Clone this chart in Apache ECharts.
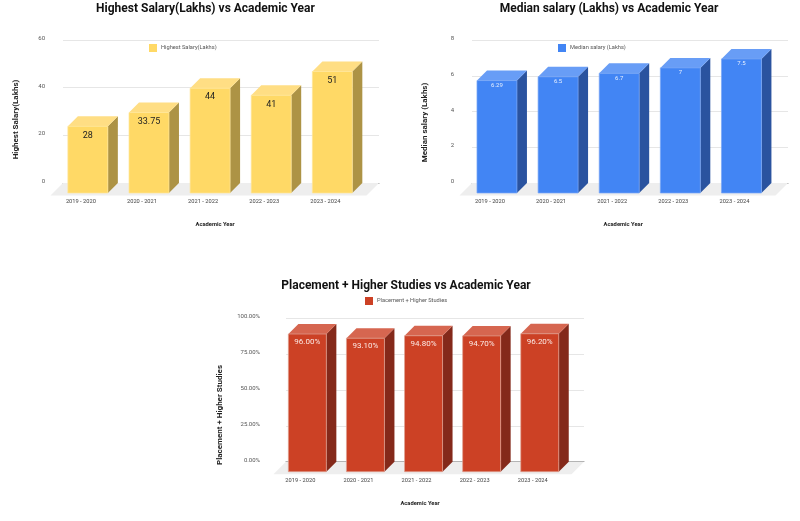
<!DOCTYPE html>
<html><head><meta charset="utf-8">
<style>html,body{margin:0;padding:0;background:#fff}#c{width:800px;height:521px}</style>
<script src="https://cdn.jsdelivr.net/npm/echarts@6/dist/echarts.min.js"></script>
</head><body><div id="c"></div>
<script>
const categories = ['2019 - 2020','2020 - 2021','2021 - 2022','2022 - 2023','2023 - 2024'];
const highestSalary = [28, 33.75, 44, 41, 51];
const medianSalary = [6.29, 6.5, 6.7, 7, 7.5];
const placement = [96.0, 93.1, 94.8, 94.7, 96.2];

const FONT = 'Roboto';
const panels = [
 {name:'Highest Salary(Lakhs)', title:'Highest Salary(Lakhs) vs Academic Year', data:highestSalary, max:60, interval:20,
  vFmt:v=>String(v), yFmt:v=>String(v),
  wall:{l:63,r:379,t:40,b:183}, band:{l:57.3,w:305.6}, titleX:200.5,titleY:3.5,
  legend:{l:149,t:44}, c:{front:'#ffd966',top:'#ffde84',side:'#ad9345',edge:'#ffe599',text:'#222222'},
  labelSize:9,labelDy:9, yMargin:18, yNameGap:43, yShift:16, xShift:10, xGap:39, dy:10},
 {name:'Median salary (Lakhs)', title:'Median salary (Lakhs) vs Academic Year', data:medianSalary, max:8, interval:2,
  vFmt:v=>String(v), yFmt:v=>String(v),
  wall:{l:472,r:788,t:40,b:183}, band:{l:466.4,w:305.6}, titleX:604,titleY:3.5,
  legend:{l:558,t:44}, c:{front:'#4285f4',top:'#689df6',side:'#2a539f',edge:'#7aa7f7',text:'#e8f0fe'},
  labelSize:6,labelDy:5, yMargin:18, yNameGap:43, yShift:22, xShift:8, xGap:39, dy:10},
 {name:'Placement + Higher Studies', title:'Placement + Higher Studies vs Academic Year', data:placement, max:100, interval:25,
  vFmt:v=>v.toFixed(2)+'%', yFmt:v=>v.toFixed(2)+'%',
  wall:{l:286,r:584,t:318.3,b:461.7}, band:{l:278.3,w:290.5}, titleX:401,titleY:281,
  legend:{l:365,t:297}, c:{front:'#cc4125',top:'#d66650',side:'#84291a',edge:'#e0a090',text:'#fbe9e5'},
  labelSize:8,labelDy:8, yMargin:26, yNameGap:62, yShift:50, xShift:-7, xGap:38.5, dy:10}
];

const option = {animation:false, backgroundColor:'#fff', title:[], legend:[], grid:[], xAxis:[], yAxis:[], series:[]};

panels.forEach((p,idx)=>{
  const w=p.wall;
  const ga=option.grid.length, gb=ga+1;
  option.title.push({text:p.title,left:p.titleX,top:p.titleY,textAlign:'center',textVerticalAlign:'middle',
    textStyle:{fontFamily:FONT,fontWeight:'bold',fontSize:12,color:'#111'}});
  option.legend.push({data:[p.name],left:p.legend.l,top:p.legend.t,itemWidth:8,itemHeight:8,itemGap:4,padding:0,
    selectedMode:false,icon:'rect',textStyle:{fontFamily:FONT,fontSize:5.7,color:'#555',padding:[0,0,0,-1]}});
  option.grid.push({left:w.l,top:w.t,width:w.r-w.l,height:w.b-w.t,containLabel:false});
  option.grid.push({left:p.band.l,top:w.t,width:p.band.w,height:w.b-w.t,containLabel:false});
  // wall axes
  option.xAxis.push({type:'category',gridIndex:ga,data:categories,axisTick:{show:false},axisLabel:{show:false},
    axisLine:{lineStyle:{color:'#a0a0a0',width:1}},splitLine:{show:false}});
  option.yAxis.push({type:'value',gridIndex:ga,min:0,max:p.max,interval:p.interval,
    name:p.name,nameLocation:'middle',nameGap:p.yNameGap,nameRotate:90,
    nameTextStyle:{fontFamily:FONT,fontWeight:'bold',fontSize:8,color:'#222',
      padding:p.yShift>0?[0,p.yShift,0,0]:[0,0,0,-p.yShift]},
    axisLine:{show:false},axisTick:{show:false},
    axisLabel:{margin:p.yMargin,fontFamily:FONT,fontSize:6,color:'#555',verticalAlign:'bottom',lineHeight:3,formatter:p.yFmt},
    splitLine:{show:true,lineStyle:{color:'#e6e6e6',width:1}}});
  // band axes
  option.xAxis.push({type:'category',gridIndex:gb,data:categories,axisTick:{show:false},axisLine:{show:false},
    name:'Academic Year',nameLocation:'middle',nameGap:p.xGap,
    nameTextStyle:{fontFamily:FONT,fontWeight:'bold',fontSize:5.8,color:'#222',
      padding:p.xShift>0?[0,0,0,p.xShift]:[0,-p.xShift,0,0]},
    axisLabel:{margin:16,fontFamily:FONT,fontSize:5.7,color:'#444',padding:[0,14,0,0],interval:0},splitLine:{show:false}});
  option.yAxis.push({type:'value',gridIndex:gb,min:0,max:p.max,interval:p.interval,show:false,splitLine:{show:false}});
  // floor
  option.series.push({type:'custom',name:'floor'+idx,xAxisIndex:ga,yAxisIndex:ga,silent:true,z:1,clip:false,
    data:[[0,0]],
    renderItem:(params,api)=>{
      const cs=params.coordSys, b=cs.y+cs.height, d=12.5;
      return {type:'polygon',shape:{points:[[cs.x,b],[cs.x+cs.width,b],[cs.x+cs.width-d,b+d],[cs.x-d,b+d]]},
        style:{fill:'#eeeeee'}};
    }});
  // bars
  option.series.push({type:'custom',name:p.name,xAxisIndex:gb,yAxisIndex:gb,z:3,clip:false,silent:true,
    itemStyle:{color:p.c.front},encode:{x:0,y:1},
    data:p.data.map((v,i)=>[i,v]),
    renderItem:(params,api)=>{
      const i=api.value(0), v=api.value(1);
      const cx=api.coord([i,0])[0], y0=api.coord([i,0])[1]+p.dy, y1=api.coord([i,v])[1]+p.dy;
      const bw=api.size([1,0])[0]*0.654, x0=cx-bw/2, x1=cx+bw/2, d=10;
      return {type:'group',children:[
        {type:'polygon',shape:{points:[[x1,y1],[x1+d,y1-d],[x1+d,y0-d],[x1,y0]]},style:{fill:p.c.side}},
        {type:'polygon',shape:{points:[[x0,y1],[x0+d,y1-d],[x1+d,y1-d],[x1,y1]]},style:{fill:p.c.top}},
        {type:'rect',shape:{x:x0,y:y1,width:bw,height:y0-y1},style:{fill:p.c.front,stroke:p.c.edge,lineWidth:0.7}},
        {type:'text',style:{text:p.vFmt(v),x:cx,y:y1+p.labelDy,align:'center',verticalAlign:'middle',
          fill:p.c.text,fontFamily:FONT,fontSize:p.labelSize}}
      ]};
    }});
});
echarts.init(document.getElementById('c'),null,{renderer:'canvas'}).setOption(option);
</script></body></html>
